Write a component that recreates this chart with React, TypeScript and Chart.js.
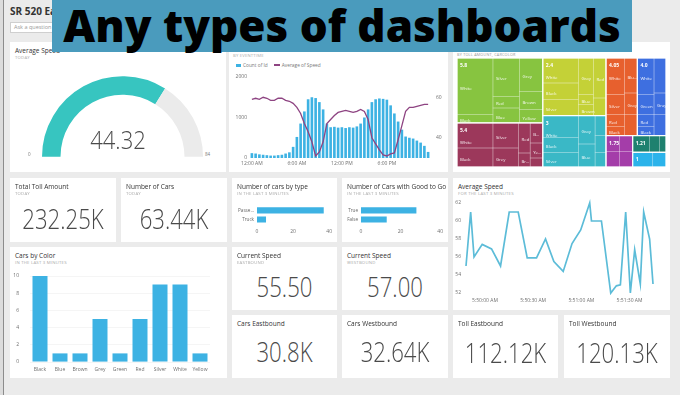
import React, { useEffect, useRef } from 'react';
import { Chart, registerables } from 'chart.js';

Chart.register(...registerables);
Chart.defaults.font.family = "'Open Sans', 'DejaVu Sans', sans-serif";

// ---------- DATA ----------
const gaugeValue = '44.32';
const gaugeMinLabel = '0';
const gaugeMaxLabel = '84';
// filled / remaining arc as drawn in the picture
const gaugeArc = [44.32, 21.1];

const comboLegend = ['Count of Id', 'Average of Speed'];
const comboCount = [120, 110, 90, 80, 70, 60, 60, 70, 80, 110, 140, 275, 520, 850, 1150, 1450, 1500, 1480, 1380, 1200, 850, 760, 770, 750, 760, 740, 760, 750, 780, 850, 1000, 1200, 1380, 1450, 1470, 1460, 1440, 1300, 1100, 900, 700, 530, 500, 480, 430, 380, 300, 150];
const comboSpeed = [59, 59.5, 59, 60, 59.5, 58.5, 58.5, 59.5, 59.5, 58.5, 58, 57, 55, 52, 47, 43, 38, 31, 33, 38, 47, 49, 51, 52.5, 53, 53.5, 53, 52.5, 53, 54, 53, 49, 40, 37, 34, 31.5, 31, 32, 32.5, 39, 46, 53, 55, 55, 55.5, 56, 56.5, 56.5];
const comboSlots = comboCount.map((_, i) => `slot${i}`);
const comboTickIndex = [0, 12, 24, 36];
const comboTickLabels = ['12:00 AM', '6:00 AM', '12:00 PM', '6:00 PM'];
const comboLeftTicks = [0, 1000, 2000];
const comboRightTicks = [40, 60];

const tmGroupLabels = ['5.8', '5.4', '2.4', '3', '4.05', '4.0', '1.75', '1.21', '1'];
const tmGroupColors = ['#87c440', '#9c385b', '#c4d137', '#3ab8c6', '#e7602e', '#3e6fe0', '#a43da9', '#1f816f', '#2bb3ea'];
const tmLayout: any = {
  dir: 'h', kids: [
    { w: 258, dir: 'v', kids: [{ w: 195, g: 0 }, { w: 132, g: 1 }] },
    { w: 190, dir: 'v', kids: [{ w: 173, g: 2 }, { w: 154, g: 3 }] },
    {
      w: 180, dir: 'v', kids: [
        { w: 233, dir: 'h', kids: [{ w: 94, g: 4 }, { w: 86, g: 5 }] },
        { w: 94, dir: 'h', kids: [{ w: 80, g: 6 }, { w: 100, dir: 'v', kids: [{ w: 50, g: 7 }, { w: 44, g: 8 }] }] },
      ],
    },
  ],
};
// sub cells per group: [column weight, [[cell weight, label], ...]]
const tmSubCells: [number, [number, string][]][][] = [
  [[108, [[170, 'White'], [25, 'Black']]], [80, [[115, 'Silver'], [35, 'Red'], [45, 'Blue']]], [70, [[100, 'Grey'], [55, 'Brown'], [40, 'Yellow']]]],
  [[108, [[75, 'White'], [57, 'Black']]], [77, [[75, 'Silver'], [57, 'Grey']]], [35, [[90, 'Red'], [42, 'Br...']]], [38, [[60, 'B...'], [45, 'Ye...'], [27, '']]]],
  [[107, [[75, 'White'], [50, 'Black'], [48, 'Silver']]], [45, [[110, 'Gray'], [30, 'Blue'], [33, 'Brown']]], [38, [[120, 'Red'], [53, '']]]],
  [[107, [[65, 'White'], [45, 'Black'], [44, 'Silver']]], [50, [[85, 'Gray'], [69, 'Blue']]], [33, [[60, ''], [50, ''], [44, '']]]],
  [[55, [[110, 'White'], [60, 'Silver'], [35, 'Red'], [28, 'Black']]], [39, [[105, 'Blu...'], [65, 'Gray'], [63, '']]]],
  [[50, [[110, 'White'], [60, 'Green'], [35, 'Red'], [28, 'Black']]], [36, [[105, ''], [65, 'Gray'], [63, '']]]],
  [[40, [[47, ''], [47, '']]], [40, [[47, ''], [47, '']]]],
  [[50, [[50, '']]], [30, [[50, '']]], [20, [[50, '']]]],
  [[60, [[44, '']]], [40, [[44, '']]]],
];

const carTypeLabels = ['Passe...', 'Truck'];
const carTypeValues = [37, 5];
const goodToGoLabels = ['True', 'False'];
const goodToGoValues = [28, 13];
const hbarTicks = [0, 20, 40];

const avgSpeedSecs = [-11.8, -8.9, -6.8, -1.7, 4.1, 9.7, 15.1, 20.7, 26.3, 32.1, 37.7, 42.9, 48.7, 54.2, 59.6, 65.2, 66.3, 72.5, 78.3, 81.8, 84.3, 87.6, 90.5, 93.2, 96.7, 98.8, 102.5, 104.6];
const avgSpeedVals = [55, 61, 56, 57.4, 56.9, 55, 61, 61, 55.9, 55.9, 58, 55.5, 54.4, 57.5, 59, 62, 60, 60, 52, 52.8, 52.9, 61, 52, 56.8, 53, 61, 58, 53];
const avgSpeedTickSecs = [0, 30, 60, 90];
const avgSpeedTickLabels = ['5:50:00 AM', '5:50:30 AM', '5:51:00 AM', '5:51:30 AM'];
const avgSpeedYTicks = [52, 54, 56, 58, 60, 62];

const colorLabels = ['Black', 'Blue', 'Brown', 'Grey', 'Green', 'Red', 'Silver', 'White', 'Yellow'];
const colorValues = [10, 1, 1, 5, 1, 5, 9, 9, 1];
const colorYTicks = [0, 2, 4, 6, 8, 10];

// ---------- HELPERS ----------
const FONT = "'Open Sans', 'DejaVu Sans', sans-serif";
const TICK = { size: 5, family: FONT };
const TICK_COLOR = '#6f6f6f';
const noGrid = { display: false, drawTicks: false };
const noAxisLine = { display: false };
const plainNum = (v: any) => String(v);

function ChartBox({ x, y, w, h, make }: { x: number; y: number; w: number; h: number; make: () => any }) {
  const ref = useRef<HTMLCanvasElement>(null);
  useEffect(() => {
    const c = new Chart(ref.current as HTMLCanvasElement, make());
    return () => c.destroy();
  }, []);
  return (
    <canvas ref={ref} width={w} height={h}
      style={{ position: 'absolute', left: x, top: y, width: w, height: h }} />
  );
}

function Panel({ x, y, w, h, title, sub }: { x: number; y: number; w: number; h: number; title?: string; sub?: string }) {
  return (
    <div style={{ position: 'absolute', left: x, top: y, width: w, height: h, background: '#fff' }}>
      {title && (
        <div style={{ position: 'absolute', left: 5, top: 4, fontSize: 6.5, color: '#333', whiteSpace: 'nowrap', lineHeight: '9px' }}>{title}</div>
      )}
      {sub && (
        <div style={{ position: 'absolute', left: 5, top: 13, fontSize: 4.3, color: '#aaa', whiteSpace: 'nowrap', lineHeight: '5px', letterSpacing: 0.2 }}>{sub}</div>
      )}
    </div>
  );
}

function Kpi({ x, y, w, h, title, sub, value, cy }: { x: number; y: number; w: number; h: number; title: string; sub?: string; value: string; cy: number }) {
  return (
    <>
      <Panel x={x} y={y} w={w} h={h} title={title} sub={sub} />
      <div style={{
        position: 'absolute', left: x, top: y + cy - 16, width: w, textAlign: 'center',
        fontSize: 27, fontWeight: 300, color: '#4a4a4a', lineHeight: '30px',
        transform: 'scaleX(0.82)', whiteSpace: 'nowrap',
      }}>{value}</div>
    </>
  );
}

function layoutNode(node: any, x0: number, y0: number, x1: number, y1: number, out: any[]) {
  if (node.g !== undefined) { out.push({ g: node.g, x0, y0, x1, y1 }); return; }
  const tot = node.kids.reduce((a: number, k: any) => a + k.w, 0);
  let acc = 0;
  for (const k of node.kids) {
    const a = acc / tot, b = (acc + k.w) / tot;
    acc += k.w;
    if (node.dir === 'h') layoutNode(k, x0 + (x1 - x0) * a, y0, x0 + (x1 - x0) * b, y1, out);
    else layoutNode(k, x0, y0 + (y1 - y0) * a, x1, y0 + (y1 - y0) * b, out);
  }
}

const treemapPlugin = {
  id: 'treemapCells',
  afterDatasetsDraw(chart: any) {
    const { ctx, scales } = chart;
    const sx = scales.x, sy = scales.y;
    const groups: any[] = [];
    layoutNode(tmLayout, 0, 0, 1, 1, groups);
    ctx.save();
    for (const r of groups) {
      const X0 = sx.getPixelForValue(r.x0), X1 = sx.getPixelForValue(r.x1);
      const Y0 = sy.getPixelForValue(r.y0), Y1 = sy.getPixelForValue(r.y1);
      ctx.fillStyle = tmGroupColors[r.g];
      ctx.fillRect(X0, Y0, X1 - X0, Y1 - Y0);
      const cols = tmSubCells[r.g];
      const ctot = cols.reduce((a, c) => a + c[0], 0);
      let cacc = 0;
      cols.forEach((col, ci) => {
        const cx0 = r.x0 + (r.x1 - r.x0) * (cacc / ctot);
        cacc += col[0];
        const cx1 = r.x0 + (r.x1 - r.x0) * (cacc / ctot);
        const rtot = col[1].reduce((a, c) => a + c[0], 0);
        let racc = 0;
        col[1].forEach((cell, ri) => {
          const ry0 = r.y0 + (r.y1 - r.y0) * (racc / rtot);
          racc += cell[0];
          const ry1 = r.y0 + (r.y1 - r.y0) * (racc / rtot);
          const px0 = sx.getPixelForValue(cx0), px1 = sx.getPixelForValue(cx1);
          const py0 = sy.getPixelForValue(ry0), py1 = sy.getPixelForValue(ry1);
          ctx.strokeStyle = 'rgba(255,255,255,0.3)';
          ctx.lineWidth = 0.7;
          ctx.strokeRect(px0, py0, px1 - px0, py1 - py0);
          if (cell[1]) {
            ctx.fillStyle = 'rgba(255,255,255,0.9)';
            ctx.font = `4.3px ${FONT}`;
            ctx.textBaseline = 'middle';
            let ty = (py0 + py1) / 2 + 2;
            if (ci === 0 && ri === 0) ty = Math.max(ty, py0 + 20);
            ctx.fillText(cell[1], px0 + 3, ty);
          }
        });
      });
      ctx.strokeStyle = '#ffffff';
      ctx.lineWidth = 1.2;
      ctx.strokeRect(X0, Y0, X1 - X0, Y1 - Y0);
      ctx.fillStyle = '#ffffff';
      ctx.font = `bold 5px ${FONT}`;
      ctx.textBaseline = 'top';
      ctx.fillText(tmGroupLabels[r.g], X0 + 3, Y0 + 5);
    }
    ctx.restore();
  },
};

// ---------- CHART CONFIGS ----------
const makeGauge = () => ({
  type: 'doughnut',
  data: { labels: ['value', 'rest'], datasets: [{ data: gaugeArc, backgroundColor: ['#37c5c0', '#ebebeb'], borderWidth: 0 }] },
  options: {
    animation: false, responsive: false, circumference: 180, rotation: -90, cutout: '77%',
    layout: { padding: 0 },
    plugins: { legend: { display: false }, tooltip: { enabled: false } },
  },
});

const makeCombo = () => ({
  type: 'bar',
  data: {
    labels: comboSlots,
    datasets: [
      { type: 'line', label: comboLegend[1], data: comboSpeed, yAxisID: 'y1', borderColor: '#8e4482', borderWidth: 1.3, pointRadius: 0, tension: 0, order: 0 },
      { type: 'bar', label: comboLegend[0], data: comboCount, yAxisID: 'y', backgroundColor: '#3db2e3', barPercentage: 0.7, categoryPercentage: 1, order: 1 },
    ],
  },
  options: {
    animation: false, responsive: false,
    layout: { padding: { top: 5, left: 0, right: 0, bottom: 0 } },
    plugins: { legend: { display: false }, tooltip: { enabled: false } },
    scales: {
      x: {
        grid: noGrid, border: noAxisLine,
        ticks: { autoSkip: false, maxRotation: 0, font: TICK, color: TICK_COLOR, padding: 3,
          callback: (_v: any, i: number) => { const k = comboTickIndex.indexOf(i); return k >= 0 ? comboTickLabels[k] : ''; } },
        afterFit: (s: any) => { s.height = 14; },
      },
      y: {
        min: 0, max: 2000, grid: noGrid, border: noAxisLine,
        afterBuildTicks: (s: any) => { s.ticks = comboLeftTicks.map((v) => ({ value: v })); },
        ticks: { font: TICK, color: TICK_COLOR, padding: 3, callback: plainNum },
        afterFit: (s: any) => { s.width = 21; },
      },
      y1: {
        position: 'right', min: 30, max: 70, grid: noGrid, border: noAxisLine,
        afterBuildTicks: (s: any) => { s.ticks = comboRightTicks.map((v) => ({ value: v })); },
        ticks: { font: TICK, color: TICK_COLOR, padding: 6, callback: plainNum },
        afterFit: (s: any) => { s.width = 18; },
      },
    },
  },
});

const makeTreemap = () => ({
  type: 'scatter',
  data: { datasets: [{ data: [] }] },
  options: {
    animation: false, responsive: false,
    layout: { padding: 0 },
    plugins: { legend: { display: false }, tooltip: { enabled: false } },
    scales: {
      x: { type: 'linear', min: 0, max: 1, display: false },
      y: { type: 'linear', min: 0, max: 1, reverse: true, display: false },
    },
  },
  plugins: [treemapPlugin],
});

const makeHBar = (labels: string[], values: number[], yWidth: number) => () => ({
  type: 'bar',
  data: { labels, datasets: [{ data: values, backgroundColor: '#3db2e3', barPercentage: 0.67, categoryPercentage: 1 }] },
  options: {
    indexAxis: 'y', animation: false, responsive: false,
    layout: { padding: { top: 3, right: 6, left: 0, bottom: 0 } },
    plugins: { legend: { display: false }, tooltip: { enabled: false } },
    scales: {
      x: {
        min: 0, max: 40, grid: noGrid, border: noAxisLine,
        afterBuildTicks: (s: any) => { s.ticks = hbarTicks.map((v) => ({ value: v })); },
        ticks: { font: TICK, color: TICK_COLOR, padding: 5, callback: plainNum },
        afterFit: (s: any) => { s.height = 16; },
      },
      y: {
        grid: noGrid, border: noAxisLine,
        ticks: { font: { size: 4.6, family: FONT }, color: '#666', padding: 3 },
        afterFit: (s: any) => { s.width = yWidth; },
      },
    },
  },
});

const makeAvgSpeed = () => ({
  type: 'line',
  data: { datasets: [{ data: avgSpeedSecs.map((s, i) => ({ x: s, y: avgSpeedVals[i] })), borderColor: '#5cbcd8', borderWidth: 1.7, pointRadius: 0, tension: 0, clip: 4 }] },
  options: {
    animation: false, responsive: false,
    layout: { padding: { top: 5, right: 15, left: 0, bottom: 0 } },
    plugins: { legend: { display: false }, tooltip: { enabled: false } },
    scales: {
      x: {
        type: 'linear', min: avgSpeedSecs[0], max: avgSpeedSecs[avgSpeedSecs.length - 1],
        grid: noGrid, border: noAxisLine,
        afterBuildTicks: (s: any) => { s.ticks = avgSpeedTickSecs.map((v) => ({ value: v })); },
        ticks: { font: TICK, color: TICK_COLOR, padding: 5, maxRotation: 0,
          callback: (v: any) => { const k = avgSpeedTickSecs.indexOf(v); return k >= 0 ? avgSpeedTickLabels[k] : ''; } },
        afterFit: (s: any) => { s.height = 17; },
      },
      y: {
        min: 52, max: 62, grid: noGrid, border: noAxisLine,
        afterBuildTicks: (s: any) => { s.ticks = avgSpeedYTicks.map((v) => ({ value: v })); },
        ticks: { font: TICK, color: TICK_COLOR, padding: 5, callback: plainNum },
        afterFit: (s: any) => { s.width = 13; },
      },
    },
  },
});

const makeColors = () => ({
  type: 'bar',
  data: { labels: colorLabels, datasets: [{ data: colorValues, backgroundColor: '#3db2e3', barPercentage: 0.75, categoryPercentage: 1 }] },
  options: {
    animation: false, responsive: false,
    layout: { padding: { top: 6, right: 17, left: 0, bottom: 0 } },
    plugins: { legend: { display: false }, tooltip: { enabled: false } },
    scales: {
      x: {
        grid: noGrid, border: noAxisLine,
        ticks: { font: TICK, color: TICK_COLOR, padding: 5, maxRotation: 0, autoSkip: false },
        afterFit: (s: any) => { s.height = 16; },
      },
      y: {
        min: 0, max: 10, grid: { color: '#f2f2f2', lineWidth: 0.8, drawTicks: false }, border: noAxisLine,
        afterBuildTicks: (s: any) => { s.ticks = colorYTicks.map((v) => ({ value: v })); },
        ticks: { font: TICK, color: TICK_COLOR, padding: 11, callback: plainNum },
        afterFit: (s: any) => { s.width = 20; },
      },
    },
  },
});

// ---------- APP ----------
export default function App() {
  return (
    <div style={{ position: 'fixed', left: 0, top: 0, width: 680, height: 395, background: '#ebebeb', overflow: 'hidden', fontFamily: FONT }}>
      {/* left border */}
      <div style={{ position: 'absolute', left: 0, top: 0, width: 3, height: 395, background: '#dcdcdc' }} />
      <div style={{ position: 'absolute', left: 3, top: 0, width: 1, height: 395, background: '#8c8c8c' }} />

      {/* header */}
      <div style={{ position: 'absolute', left: 10, top: 4, fontSize: 10, fontWeight: 700, color: '#333', whiteSpace: 'nowrap', lineHeight: '14px' }}>SR 520 Eastbound</div>
      <div style={{ position: 'absolute', left: 10, top: 22, width: 100, height: 11, background: '#fff', border: '1px solid #cfcfcf', boxSizing: 'border-box' }}>
        <div style={{ position: 'absolute', left: 3, top: 1, fontSize: 5.5, color: '#999', whiteSpace: 'nowrap', lineHeight: '7px' }}>Ask a question about your data</div>
      </div>

      {/* gauge panel */}
      <Panel x={10} y={42} w={216} h={130} title="Average Speed" sub="TODAY" />
      <ChartBox x={42} y={76} w={161} h={81} make={makeGauge} />
      <div style={{ position: 'absolute', left: 68, top: 124, width: 100, textAlign: 'center', fontSize: 26, fontWeight: 300, color: '#4a4a4a', lineHeight: '30px', transform: 'scaleX(0.85)' }}>{gaugeValue}</div>
      <div style={{ position: 'absolute', left: 28, top: 152, fontSize: 4.5, color: '#777', lineHeight: '5px' }}>{gaugeMinLabel}</div>
      <div style={{ position: 'absolute', left: 205, top: 152, fontSize: 4.5, color: '#777', lineHeight: '5px' }}>{gaugeMaxLabel}</div>

      {/* combo panel */}
      <Panel x={229} y={42} w={219} h={130} />
      <div style={{ position: 'absolute', left: 233, top: 53, fontSize: 4.2, color: '#aaa', lineHeight: '5px', letterSpacing: 0.2 }}>BY EVENTTIME</div>
      <div style={{ position: 'absolute', left: 236, top: 62, height: 6, display: 'flex', alignItems: 'center', fontSize: 4.8, color: '#777', whiteSpace: 'nowrap' }}>
        <span style={{ display: 'inline-block', width: 5, height: 3, background: '#3db2e3', marginRight: 2 }} />
        <span style={{ marginRight: 6 }}>{comboLegend[0]}</span>
        <span style={{ display: 'inline-block', width: 6, height: 1.3, background: '#8e4482', marginRight: 2 }} />
        <span>{comboLegend[1]}</span>
      </div>
      <ChartBox x={229} y={68} w={219} h={104} make={makeCombo} />

      {/* treemap panel */}
      <Panel x={453} y={42} w={217} h={130} />
      <div style={{ position: 'absolute', left: 457, top: 52, fontSize: 3.8, color: '#999', lineHeight: '5px', letterSpacing: 0.2 }}>BY TOLL AMOUNT, CARCOLOR</div>
      <ChartBox x={457} y={58} w={209} h={109} make={makeTreemap} />

      {/* row 2 */}
      <Kpi x={10} y={178} w={106} h={64} title="Total Toll Amount" sub="TODAY" value="232.25K" cy={42} />
      <Kpi x={121} y={178} w={106} h={64} title="Number of Cars" sub="TODAY" value="63.44K" cy={42} />

      <Panel x={232} y={178} w={105} h={64} title="Number of cars by type" sub="IN THE LAST 3 MINUTES" />
      <ChartBox x={232} y={200} w={105} h={40} make={makeHBar(carTypeLabels, carTypeValues, 25)} />
      <Panel x={342} y={178} w={106} h={64} title="Number of Cars with Good to Go" sub="IN THE LAST 3 MINUTES" />
      <ChartBox x={342} y={200} w={106} h={40} make={makeHBar(goodToGoLabels, goodToGoValues, 19)} />

      <Panel x={453} y={178} w={217} h={132} title="Average Speed" sub="FOR THE LAST 3 MINUTES" />
      <ChartBox x={453} y={195} w={215} h={115} make={makeAvgSpeed} />

      {/* row 3 */}
      <Panel x={10} y={247} w={217} h={131} title="Cars by Color" sub="IN THE LAST 3 MINUTES" />
      <ChartBox x={10} y={262} w={217} h={116} make={makeColors} />

      <Kpi x={232} y={247} w={105} h={63} title="Current Speed" sub="EASTBOUND" value="55.50" cy={41} />
      <Kpi x={342} y={247} w={106} h={63} title="Current Speed" sub="WESTBOUND" value="57.00" cy={41} />
      <Kpi x={232} y={315} w={105} h={63} title="Cars Eastbound" value="30.8K" cy={38} />
      <Kpi x={342} y={315} w={106} h={63} title="Cars Westbound" value="32.64K" cy={38} />
      <Kpi x={453} y={315} w={105} h={63} title="Toll Eastbound" value="112.12K" cy={39} />
      <Kpi x={564} y={315} w={106} h={63} title="Toll Westbound" value="120.13K" cy={39} />

      {/* banner */}
      <div style={{ position: 'absolute', left: 52, top: 0, width: 580, height: 52, background: '#4a9bbd' }}>
        <div style={{ position: 'absolute', left: 0, top: 0, width: 580, textAlign: 'center', fontSize: 44, fontWeight: 800, color: '#000', lineHeight: '50px', whiteSpace: 'nowrap' }}>Any types of dashboards</div>
      </div>
    </div>
  );
}
